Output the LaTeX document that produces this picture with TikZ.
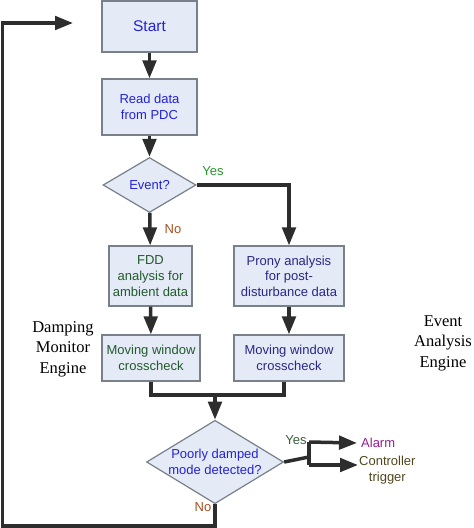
\documentclass[tikz,border=0pt]{standalone}
\usepackage{fontspec}
\setmainfont{Liberation Sans}
\newfontfamily\tiempos{Liberation Serif}
\usetikzlibrary{shapes.geometric,arrows.meta,positioning}
\newcommand{\letra}{\fontsize{13}{15.6}\selectfont}
\definecolor{fondocaja}{RGB}{228,234,246}
\definecolor{bordecaja}{RGB}{120,128,138}
\definecolor{gristrazo}{RGB}{45,45,45}
\definecolor{azul}{RGB}{35,35,215}
\definecolor{azuloscuro}{RGB}{40,40,135}
\definecolor{verdeoscuro}{RGB}{35,90,45}
\definecolor{verdesi}{RGB}{40,150,40}
\definecolor{verdesi2}{RGB}{60,95,60}
\definecolor{marron}{RGB}{165,80,30}
\definecolor{morado}{RGB}{150,30,150}
\definecolor{oliva}{RGB}{80,70,30}
\tikzstyle{caja} = [draw=bordecaja, fill=fondocaja, line width=1.2pt, rectangle, align=center, inner sep=2pt, font=\letra]
\tikzstyle{decision} = [draw=bordecaja, fill=fondocaja, line width=1.2pt, diamond, aspect=1.7, inner sep=0pt, align=center, font=\letra]
\tikzstyle{flecha} = [draw=gristrazo, line width=3.5pt, -{Triangle[length=18pt,width=13.5pt]}]
\tikzstyle{linea} = [draw=gristrazo, line width=3.5pt]
\tikzstyle{etiqueta} = [inner sep=1pt, font=\letra]
\tikzstyle{motor} = [align=center, font=\tiempos\fontsize{16.5}{20.5}\selectfont]
\begin{document}
\begin{tikzpicture}[x=1pt, y=-1pt]
	\useasboundingbox (0,0) rectangle (474,528);
	\node [caja, minimum width=95pt, minimum height=51pt, text=azul, font=\fontsize{15.5}{18}\selectfont] (start) at (149.5,26.5) {Start};
	\node [caja, minimum width=95pt, minimum height=56pt, text=azul] (read) at (149.5,107) {Read data\\from PDC};
	\node [decision, minimum width=93pt, minimum height=55pt, text=azul] (event) at (149.5,185) {Event?};
	\node [caja, minimum width=83pt, minimum height=60pt, text=verdeoscuro] (fdd) at (150.5,276) {FDD\\analysis for\\ambient data};
	\node [caja, minimum width=110pt, minimum height=60pt, text=azuloscuro] (prony) at (289,276) {Prony analysis\\for post-\\disturbance data};
	\node [caja, minimum width=98pt, minimum height=46pt, text=verdeoscuro] (mwl) at (151,358) {Moving window\\crosscheck};
	\node [caja, minimum width=110pt, minimum height=46pt, text=azuloscuro] (mwr) at (289,358) {Moving window\\crosscheck};
	\node [decision, aspect=1.6, minimum width=137pt, minimum height=80pt, text=azul] (damp) at (215,462) {Poorly damped\\mode detected?};
	\node [etiqueta, anchor=west, text=morado] (alarm) at (360,443) {Alarm};
	\node [etiqueta, anchor=north west, align=center, text=oliva] (ctrl) at (358,455) {Controller\\trigger};
	\node [motor] (dme) at (63,349) {Damping\\Monitor\\Engine};
	\node [motor] (eae) at (443,343) {Event\\Analysis\\Engine};
	\coordinate (merge) at (215,395);
	\coordinate (fork) at (309,457);
	\coordinate (forkup) at (309,442);
	\coordinate (forklo) at (309,465);
	\coordinate (esquina) at (2.5,526);
	\coordinate (vuelta) at (73,23);
	\draw [flecha] (start) -- (read);
	\draw [flecha] (read) -- (event);
	\draw [flecha] (event) -- node [etiqueta, right=12pt, text=marron] (no1) {No} (fdd);
	\draw [flecha] (event.east) -| (prony.north);
	\node [etiqueta, text=verdesi] (yes1) at (213,171) {Yes};
	\draw [flecha] (fdd) -- (mwl);
	\draw [flecha] (prony) -- (mwr);
	\draw [linea] (mwl.south) |- (merge) -| ([xshift=-5pt]mwr.south);
	\draw [flecha] (merge) -- (damp.north);
	\draw [linea] (damp.east) -- (fork);
	\draw [linea] (forkup) -- (forklo);
	\draw [flecha] (forkup) -- ([xshift=-3pt]alarm.west);
	\draw [flecha] (forklo) -- (forklo -| ctrl.west);
	\node [etiqueta, text=verdesi2] (yes2) at (296,440) {Yes};
	\draw [flecha] (damp.south) |- (esquina) |- (vuelta);
	\node [etiqueta, text=marron] (no2) at (203,507) {No};
\end{tikzpicture}
\end{document}
